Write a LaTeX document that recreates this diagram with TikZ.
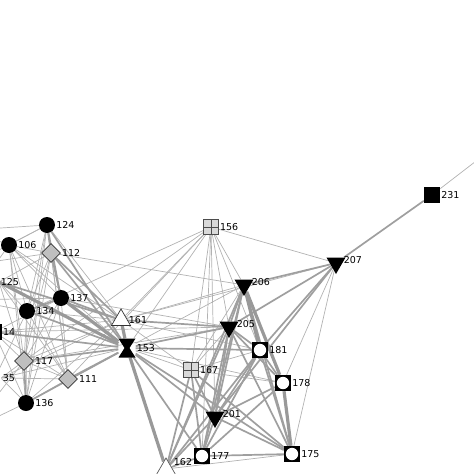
\documentclass[tikz,border=0pt]{standalone}
\usepackage{fontspec}
\setmainfont{DejaVu Sans}
\usetikzlibrary{shapes.geometric,backgrounds}
\tikzset{
  lab/.style={font=\fontsize{9.5}{10}\selectfont, inner sep=1pt, text=black},
  e1/.style={draw=gray!60, line width=0.7pt},
  e2/.style={draw=gray!75, line width=1.7pt},
  e3/.style={draw=gray!80, line width=3.2pt},
  bc/.style={circle, fill=black, minimum size=16pt, inner sep=0pt},
  dm/.style={diamond, fill=gray!50, draw=gray!40!black, line width=0.6pt, minimum size=19pt, inner sep=0pt},
  gs/.style={rectangle, fill=gray!30, draw=gray!60!black, line width=0.7pt, minimum size=15pt, inner sep=0pt,
    path picture={\draw[gray!60!black, line width=0.7pt] (path picture bounding box.north) -- (path picture bounding box.south)
       (path picture bounding box.west) -- (path picture bounding box.east);}},
  sc/.style={rectangle, fill=black, minimum size=16pt, inner sep=0pt,
    path picture={\fill[white] (path picture bounding box.center) circle (6.2pt);}},
  bs/.style={rectangle, fill=black, minimum size=16pt, inner sep=0pt},
  dt/.style={regular polygon, regular polygon sides=3, shape border rotate=180, fill=black, minimum size=22pt, inner sep=0pt},
  ut/.style={regular polygon, regular polygon sides=3, fill=white, draw=gray!40!black, line width=0.7pt, minimum size=22pt, inner sep=0pt},
  hg/.style={rectangle, minimum width=17pt, minimum height=19pt, inner sep=0pt,
    path picture={\fill[black] (path picture bounding box.north west) -- (path picture bounding box.north east)
      -- ([xshift=2.5pt]path picture bounding box.center) -- (path picture bounding box.south east)
      -- (path picture bounding box.south west) -- ([xshift=-2.5pt]path picture bounding box.center) -- cycle;}},
  off/.style={circle, inner sep=0pt, minimum size=1pt},
}
\begin{document}
\begin{tikzpicture}[x=1pt,y=-1pt]
\useasboundingbox (0,0) rectangle (474,474);
% nodes
\node[bc, label={[lab]right:124}] (n124) at (47,225) {};
\node[bc, label={[lab]right:106}] (n106) at (9,245) {};
\node[dm, label={[lab]right:112}] (n112) at (51,253) {};
\node[bc, label={[lab]right:137}] (n137) at (61,298) {};
\node[bc, label={[lab]right:134}] (n134) at (27,311) {};
\node[dm, label={[lab]right:117}] (n117) at (24,361) {};
\node[dm, label={[lab]right:111}] (n111) at (68,379) {};
\node[bc, label={[lab]right:136}] (n136) at (26,403) {};
\node[off, label={[lab]right:125}] (n125) at (-1,282) {};
\node[bs] (n14) at (-6,332) {};
\node[lab, anchor=west] (l14) at (2,332) {14};
\node[off, label={[lab]right:35}] (n35) at (1,378) {};
\node[off] (oa) at (-30,230) {};
\node[off] (ob) at (-30,300) {};
\node[off] (oc) at (-30,430) {};
\node[off] (od) at (-30,265) {};
\node[ut, label={[lab]right:161}] (n161) at (121,320) {};
\node[hg, label={[lab]right:153}] (n153) at (127,348) {};
\node[gs, label={[lab]right:156}] (n156) at (211,227) {};
\node[dt, label={[lab,yshift=3pt]right:206}] (n206) at (244,285) {};
\node[dt, label={[lab,yshift=3pt]right:207}] (n207) at (336,263) {};
\node[bs, label={[lab]right:231}] (n231) at (432,195) {};
\node[off] (oe) at (480,158) {};
\node[dt, label={[lab,yshift=3pt]right:205}] (n205) at (229,327) {};
\node[sc, label={[lab]right:181}] (n181) at (260,350) {};
\node[gs, label={[lab]right:167}] (n167) at (191,370) {};
\node[sc, label={[lab]right:178}] (n178) at (283,383) {};
\node[dt, label={[lab,yshift=3pt]right:201}] (n201) at (215,417) {};
\node[sc, label={[lab]right:177}] (n177) at (202,456) {};
\node[sc, label={[lab]right:175}] (n175) at (292,454) {};
\node[ut, draw=gray!70!black, label={[lab,yshift=7pt]right:162}] (n162) at (166,469) {};
\begin{pgfonlayer}{background}
\foreach \a/\b in {n124/n106,n124/n134,n124/n117,n124/n111,n124/n136,n124/oa,n124/od,
  n106/n112,n106/n134,n106/n137,n106/n117,n106/n136,n106/n111,n106/oa,n106/ob,
  n112/n134,n112/n117,n112/n111,n112/n136,n112/od,n112/n125,
  n137/n117,n137/n111,n137/n136,n137/ob,n137/n14,
  n134/n117,n134/n111,n134/n136,n134/ob,n134/oc,
  n117/n111,n117/oc,n117/n125,n111/n136,n111/n125,n111/n14,n136/n35,n136/n14,n136/oc,
  n125/n134,n14/n117,n35/n117,n35/n111,
  n124/n161,n106/n161,n106/n153,n134/n161,n117/n161,n136/n161,n14/n161,n35/n161,n35/n153,
  n156/n161,n156/n153,n156/n134,n156/n117,n156/n111,
  n161/n206,n161/n207,n161/n181,n112/n206,n137/n205,n14/n205,n117/n205,
  n156/n206,n156/n205,n156/n181,n156/n167,n156/n201,n156/n177,n156/n207,
  n207/n178,n207/n175,n206/n167,n205/n167,n181/n167,n178/n167,n175/n162,
  n153/n206,n153/n178,n153/n167,n167/n161}
  \draw[e1] (\a) -- (\b);
\foreach \a/\b in {n124/n112,n124/n137,n112/n137,n112/n161,n112/n153,n124/n153,
  n137/n134,n117/n136,n137/n161,n134/n153,n117/n153,n111/n153,n136/n153,n125/n161,n14/n153,
  n153/n205,n153/n181,n153/n201,n153/n175,n153/n177,n161/n205,
  n206/n207,n206/n205,n206/n201,n206/n177,n206/n175,n206/n162,
  n207/n205,n207/n181,n207/n201,n207/n231,
  n205/n181,n205/n178,n205/n175,n205/n177,n205/n201,n205/n162,
  n181/n178,n181/n175,n181/n177,n181/n201,n181/n162,
  n178/n177,n178/n201,n201/n177,n201/n175,n201/n162,n201/n167,
  n177/n175,n177/n162,n177/n167,n175/n167,n167/n162}
  \draw[e2] (\a) -- (\b);
\draw[e1] (n231) -- (oe);
\foreach \a/\b in {n137/n153,n125/n153,n161/n153,n153/n162,n206/n181,n206/n178,n178/n175}
  \draw[e3] (\a) -- (\b);
\end{pgfonlayer}
\end{tikzpicture}
\end{document}
